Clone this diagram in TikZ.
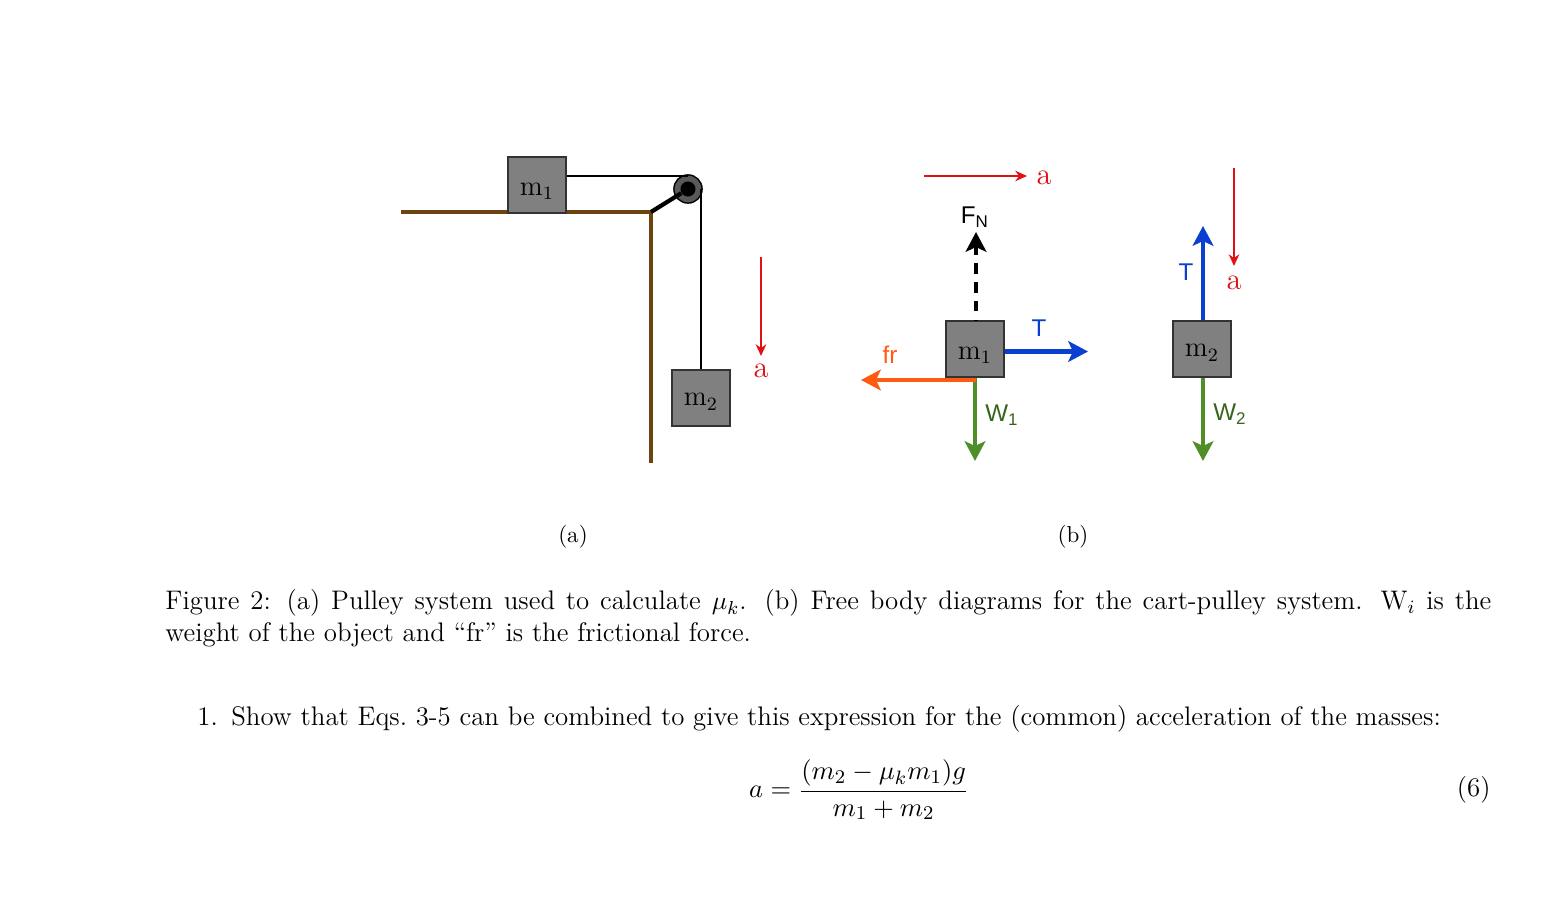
\documentclass[tikz,border=0pt]{standalone}
\usepackage{amsmath}
\usepackage{fontspec}
\usetikzlibrary{arrows.meta}
\newfontfamily\labelfont{Liberation Sans}
\definecolor{tablebrown}{HTML}{6B4410}
\definecolor{accred}{HTML}{E01015}
\definecolor{tenblue}{HTML}{0A3FCF}
\definecolor{wgreen}{HTML}{4F8F2A}
\definecolor{frorange}{HTML}{FF5A10}
\tikzset{
  mass/.style={draw=black!80, fill=black!50, line width=0.7pt, minimum width=24.7pt,
    minimum height=23.6pt, inner sep=0pt, text depth=0pt, font=\fontsize{12}{12}\selectfont},
  massone/.style={mass, text height=8.6pt},
  masstwo/.style={mass, text height=6.8pt},
  table/.style={draw=tablebrown, line width=1.3pt},
  string/.style={draw=black, line width=0.7pt},
  accel/.style={draw=accred, line width=0.7pt, -{Stealth[length=5pt,width=4.5pt]}},
  force/.style={line width=1.9pt, -{Stealth[length=8.4pt,width=8.8pt,inset=2pt]}},
  alabel/.style={text=accred, inner sep=0pt, font=\fontsize{13}{13}\selectfont},
  flabel/.style={inner sep=0pt, font=\labelfont\fontsize{10.3}{11}\selectfont},
  body/.style={inner sep=0pt, font=\fontsize{11.42}{13.6}\selectfont},
  sublabel/.style={inner sep=0pt, font=\fontsize{9.8}{12}\selectfont},
}
\begin{document}
\begin{tikzpicture}[x=0.4255pt, y=-0.4255pt]
  \useasboundingbox (0,0) rectangle (1562,897);

  % (a) the table and the pulley
  \coordinate (tableleft) at (401,212);
  \coordinate (corner) at (651,212);
  \coordinate (tablefoot) at (651,463);
  \coordinate (axle) at (688,189);
  \draw [table] (tableleft) -- (corner) -- (tablefoot);
  \node [massone] (m1a) at (537,185) {m$_1$};
  \node [masstwo] (m2a) at (701,398) {m$_2$};
  \coordinate (stringtop) at (688,176);
  \coordinate (stringright) at (701,189);
  \node [circle, draw=black, fill=black!65, line width=0.6pt, minimum size=12pt, inner sep=0pt] (pulley) at (axle) {};
  \node [circle, fill=black, minimum size=6.4pt, inner sep=0pt] (hub) at (axle) {};
  \draw [string] (m1a.east |- stringtop) -- (stringtop);
  \draw [string] (stringright) -- (stringright |- m2a.north);
  \draw [black, line width=1.8pt] (corner) -- (hub);
  \coordinate (aatop) at (761,257);
  \node [alabel] (aa) at (761,371) {a};
  \draw [accel] (aatop) -- (761,356);

  % (b) free body diagrams
  \node [massone] (m1b) at (975,349) {m$_1$};
  \node [masstwo] (m2b) at (1202,349) {m$_2$};

  \coordinate (arstart) at (924,176);
  \node [alabel] (ar) at (1044,178) {a};
  \draw [accel] (arstart) -- (1027,176);

  \node [flabel] (fn) at (975,217) {F\textsubscript{N}};
  \draw [force, black, dash pattern=on 4.4pt off 3.6pt, dash phase=3.9pt] (976,321) -- (976,232);

  \coordinate (t1tip) at (1088,351.5);
  \draw [force, tenblue] (m1b.east |- t1tip) -- (t1tip);
  \node [flabel, text=tenblue] (t1) at (1039,328) {T};

  \coordinate (w1tip) at (975,461);
  \draw [force, wgreen] (w1tip |- m1b.south) -- (w1tip);
  \node [flabel, text=wgreen!70!black] (w1) at (1002,415) {W\textsubscript{1}};

  \coordinate (frtip) at (861,380);
  \draw [force, frorange] (976,380) -- (frtip);
  \node [flabel, text=frorange] (fr) at (890,355) {fr};

  \coordinate (t2tip) at (1203,226);
  \draw [force, tenblue] (t2tip |- m2b.north) -- (t2tip);
  \node [flabel, text=tenblue] (t2) at (1186,272) {T};

  \coordinate (w2tip) at (1203,461);
  \draw [force, wgreen] (w2tip |- m2b.south) -- (w2tip);
  \node [flabel, text=wgreen!70!black] (w2) at (1230,414) {W\textsubscript{2}};

  \coordinate (abtop) at (1234,168);
  \node [alabel] (ab) at (1234,283) {a};
  \draw [accel] (abtop) -- (1234,266);

  % captions and text below
  \node [sublabel] (capa) at (573,537) {(a)};
  \node [sublabel] (capb) at (1073,537) {(b)};
  \node [body, anchor=base west, text width=564.2pt, align=justify] (caption) at (165,610)
    {Figure 2: (a) Pulley system used to calculate $\mu_k$. (b) Free body diagrams for the cart-pulley system. W$_i$ is the weight of the object and ``fr'' is the frictional force.};
  \node [body, anchor=base west] (item) at (197,725)
    {1.\enspace Show that Eqs.\ 3-5 can be combined to give this expression for the (common) acceleration of the masses:};
  \node [body] (eqn) at (859,790) {\scalebox{1.03}{$\displaystyle a=\frac{(m_2-\mu_k m_1)g}{m_1+m_2}$}};
  \node [body, anchor=east] (eqnum) at (1491,790) {(6)};
\end{tikzpicture}
\end{document}
